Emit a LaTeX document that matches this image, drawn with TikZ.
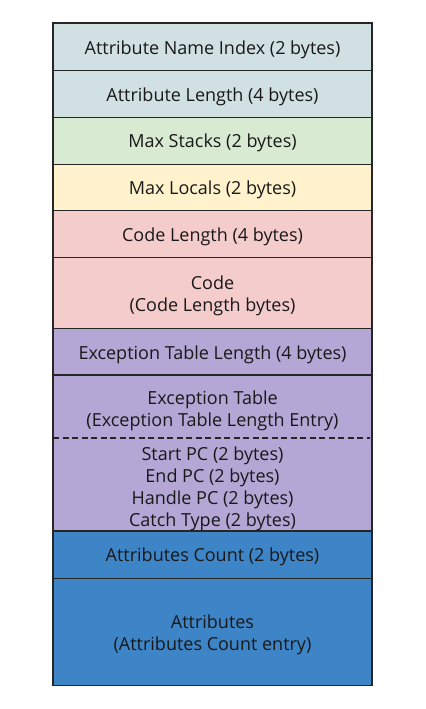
\documentclass[tikz,border=0pt]{standalone}
\usepackage{fontspec}
\setmainfont{Open Sans}
\definecolor{cgray}{HTML}{D0E0E3}
\definecolor{cgreen}{HTML}{D9EAD3}
\definecolor{cyellow}{HTML}{FFF2CC}
\definecolor{cpink}{HTML}{F4CCCC}
\definecolor{cpurple}{HTML}{B4A7D6}
\definecolor{cblue}{HTML}{3D85C6}
\begin{document}
\begin{tikzpicture}[x=1bp,y=-1bp,
  box/.style={draw=black!85, line width=1.4bp, rectangle, minimum width=319bp, inner sep=0pt},
  lbl/.style={inner sep=0pt, align=center, font=\fontsize{18bp}{22bp}\selectfont, text=black!90}]
\useasboundingbox (0,0) rectangle (425,709);
\node[box, fill=cgray, minimum height=47.7bp] (ani) at (212.5,46.85) {};
\node[box, fill=cgray, minimum height=46.6bp] (al) at (212.5,94) {};
\node[box, fill=cgreen, minimum height=47bp] (ms) at (212.5,140.8) {};
\node[box, fill=cyellow, minimum height=46.4bp] (ml) at (212.5,187.5) {};
\node[box, fill=cpink, minimum height=46.6bp] (cl) at (212.5,234) {};
\node[box, fill=cpink, minimum height=71.4bp] (code) at (212.5,293) {};
\node[box, fill=cpurple, minimum height=46.3bp] (etl) at (212.5,351.85) {};
\node[box, fill=cpurple, minimum height=156bp] (et) at (212.5,453) {};
\node[box, fill=cblue, minimum height=47.3bp] (ac) at (212.5,554.65) {};
\node[box, fill=cblue, minimum height=107.4bp] (attr) at (212.5,632) {};
\coordinate (dl) at (53,438);
\coordinate (dr) at (370,438);
\draw[black!85, line width=1.3bp, dash pattern=on 6bp off 3.5bp] (dl) -- (dr);
\node[lbl] (tani) at ([yshift=-2.5bp]ani.center) {Attribute Name Index (2 bytes)};
\node[lbl] (tal) at ([yshift=-2.5bp]al.center) {Attribute Length (4 bytes)};
\node[lbl] (tms) at ([yshift=-2.5bp]ms.center) {Max Stacks (2 bytes)};
\node[lbl] (tml) at ([yshift=-2.5bp]ml.center) {Max Locals (2 bytes)};
\node[lbl] (tcl) at ([yshift=-2.5bp]cl.center) {Code Length (4 bytes)};
\node[lbl] (tcode) at ([yshift=-3bp]code.center) {Code\\(Code Length bytes)};
\node[lbl] (tetl) at ([yshift=-2.5bp]etl.center) {Exception Table Length (4 bytes)};
\node[lbl] (ethead) at (212.5,410.5) {Exception Table\\(Exception Table Length Entry)};
\node[lbl] (etbody) at (212.5,488.5) {Start PC (2 bytes)\\End PC (2 bytes)\\Handle PC (2 bytes)\\Catch Type (2 bytes)};
\node[lbl] (tac) at ([yshift=-2.5bp]ac.center) {Attributes Count (2 bytes)};
\node[lbl] (tattr) at ([yshift=-3bp]attr.center) {Attributes\\(Attributes Count entry)};
\end{tikzpicture}
\end{document}
